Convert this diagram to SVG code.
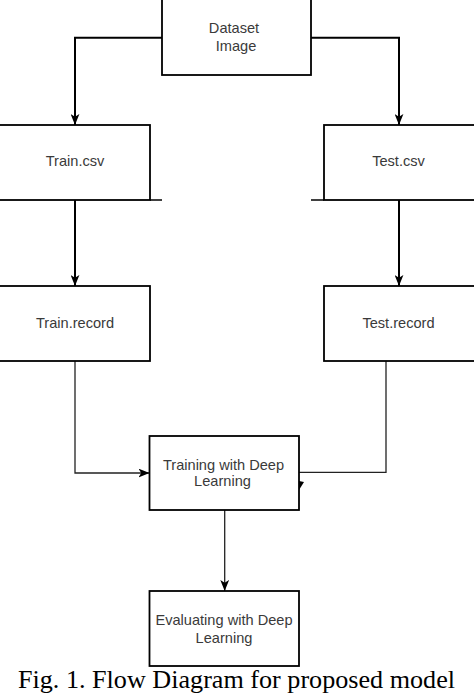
<svg xmlns="http://www.w3.org/2000/svg" width="474" height="696" viewBox="0 0 474 696">
<style>
.box{fill:#fff;stroke:#000;stroke-width:1.8}
.ext{stroke:#000;stroke-width:1.5;fill:none}
.lbl{font-family:"Liberation Sans",Arial,Helvetica,sans-serif;font-size:14.6px;fill:#3a3a3a;text-anchor:middle}
.c1{fill:none;stroke:#000;stroke-width:2}
.c2{fill:none;stroke:#222;stroke-width:1.3}
.cap{font-family:"Liberation Serif","Times New Roman",serif;font-size:24.5px;fill:#000}
</style>
<defs>
<marker id="ah" markerUnits="userSpaceOnUse" viewBox="0 0 10 8" refX="10" refY="4" markerWidth="11" markerHeight="9" orient="auto">
<path d="M0,0 L10,4 L0,8 L2.5,4 z" fill="#000"/>
</marker>
</defs>
<rect width="474" height="696" fill="#fff"/>
<g id="connectors">
<path class="c1" d="M162,37.7 H75 V125" marker-end="url(#ah)"/>
<path class="c1" d="M311,37.7 H399 V125" marker-end="url(#ah)"/>
<path class="c1" d="M75,200 V286" marker-end="url(#ah)"/>
<path class="c1" d="M399,200 V286" marker-end="url(#ah)"/>
<path class="c2" d="M75,361 V473 H149.5" marker-end="url(#ah)"/>
<path class="c2" d="M386,361 V472.3 H299"/>
<polygon points="299,481 304,482 299,490" fill="#000"/>
<path class="c2" d="M224.7,510 V591" marker-end="url(#ah)"/>
</g>
<g id="dataset">
<rect class="box" x="162" y="-10" width="149" height="85"/>
<text class="lbl" x="234" y="33">Dataset</text>
<text class="lbl" x="236" y="51">Image</text>
</g>
<g id="train-csv">
<rect class="box" x="-10" y="125" width="160" height="75"/>
<line class="ext" x1="150" y1="200" x2="162" y2="200"/>
<text class="lbl" x="75" y="166">Train.csv</text>
</g>
<g id="test-csv">
<rect class="box" x="324" y="125" width="160" height="75"/>
<line class="ext" x1="311" y1="200" x2="324" y2="200"/>
<text class="lbl" x="398.5" y="166">Test.csv</text>
</g>
<g id="train-record">
<rect class="box" x="-10" y="286" width="160" height="75"/>
<text class="lbl" x="75" y="328">Train.record</text>
</g>
<g id="test-record">
<rect class="box" x="324" y="286" width="160" height="75"/>
<text class="lbl" x="398.5" y="328">Test.record</text>
</g>
<g id="training">
<rect class="box" x="149.5" y="436" width="149.5" height="74"/>
<text class="lbl" x="223.5" y="469.5">Training with Deep</text>
<text class="lbl" x="222.5" y="486">Learning</text>
</g>
<g id="evaluating">
<rect class="box" x="149.5" y="591" width="149.5" height="75"/>
<text class="lbl" x="224" y="625">Evaluating with Deep</text>
<text class="lbl" x="224" y="643">Learning</text>
</g>
<text class="cap" x="18" y="688" textLength="437" lengthAdjust="spacingAndGlyphs">Fig. 1. Flow Diagram for proposed model</text>
</svg>
